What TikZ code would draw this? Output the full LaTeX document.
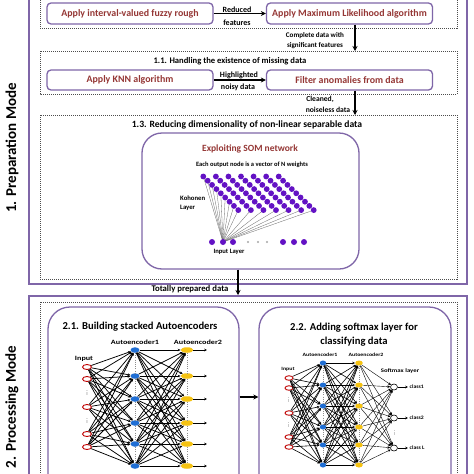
\documentclass[tikz,border=0pt]{standalone}
\usepackage{fontspec}
\setmainfont{Carlito}
\usetikzlibrary{arrows.meta,shapes.geometric}
\definecolor{pborder}{HTML}{7F66A8}
\definecolor{btext}{HTML}{953735}
\definecolor{somdot}{HTML}{6312C4}
\definecolor{aeblue}{HTML}{1F6ED4}
\definecolor{aeyel}{HTML}{F5C211}
\definecolor{inred}{HTML}{C00000}
\newcommand{\myfs}[1]{\fontsize{#1}{#1}\selectfont}
\begin{document}
\begin{tikzpicture}[x=1pt,y=-1pt,
  outerbox/.style={draw=pborder,line width=1.8pt},
  dashbox/.style={draw=black!70,line width=0.5pt,dash pattern=on 1pt off 1pt},
  stepbox/.style={draw=pborder,line width=1.3pt,rounded corners=4pt,fill=white,text=btext,font=\bfseries\myfs{9.9},minimum height=21pt,minimum width=166pt,inner sep=0pt},
  bigbox/.style={draw=pborder,line width=1.3pt,fill=white},
  flowarrow/.style={-{Stealth[length=5pt,width=5pt]},line width=1.4pt},
  lbl/.style={font=\bfseries\myfs{8},inner sep=0pt},
  ttl/.style={font=\bfseries\myfs{8.6},inner sep=0pt},
  somdotst/.style={circle,fill=somdot,inner sep=0pt,minimum size=5.8pt},
  graydot/.style={circle,fill=black!35,inner sep=0pt,minimum size=2.4pt},
  somline/.style={draw=black!60,line width=0.3pt},
  inode/.style={ellipse,draw=inred,line width=0.9pt,fill=white,inner sep=0pt,minimum width=#1,minimum height=5pt},
  bnode/.style={ellipse,fill=aeblue,inner sep=0pt,minimum width=#1,minimum height=5.5pt},
  ynode/.style={ellipse,fill=aeyel,inner sep=0pt,minimum width=#1,minimum height=5.5pt},
  smnode/.style={ellipse,draw=black,line width=0.6pt,fill=white,inner sep=0pt,minimum width=7pt,minimum height=6pt},
  edge/.style={line width=0.75pt,-{Stealth[length=2.8pt,width=2.6pt]}},
  vdots/.style={draw=black!45,line width=0.8pt,dash pattern=on 1pt off 1.2pt},
  nnl/.style={font=\bfseries\myfs{#1},inner sep=0pt}
]
\useasboundingbox (0,0) rectangle (474,474);
\fill[white] (0,0) rectangle (474,474);
\clip (0,0) rectangle (474,474);

% ---------- Section 1 ----------
\draw[outerbox] (29,-20) rectangle (467,284);
\node[rotate=90,font=\bfseries\myfs{15}] (prep) at (12,148) {1. Preparation Mode};

% top dashed box
\draw[dashbox] (40,-10) rectangle (457,28);
\node[stepbox] (fuzzy) at (130,13.5) {Apply interval-valued fuzzy rough};
\node[stepbox] (mle) at (349.5,13.5) {Apply Maximum Likelihood algorithm};
\draw[flowarrow] (fuzzy.east) -- (mle.west);
\node[lbl] (redl) at (237,9.5) {Reduced};
\node[lbl] (feal) at (237,23) {features};

\coordinate (c1) at (355,51);
\draw[flowarrow] (mle.south -| c1) -- (c1);
\node[lbl,font=\bfseries\myfs{7.1},align=center] (compl) at (315,40.5) {Complete data with\\[2.5pt]significant features};

% 1.1 dashed box
\draw[dashbox] (40,51) rectangle (457,94);
\node[ttl] (t11) at (230,61) {1.1. Handling the existence of missing data};
\node[stepbox,minimum height=20pt] (knn) at (130,80) {Apply KNN algorithm};
\node[stepbox,minimum height=20pt] (filt) at (349.5,80) {Filter anomalies from data};
\draw[flowarrow] (knn.east) -- (filt.west);
\node[lbl] (hil) at (239,75) {Highlighted};
\node[lbl] (nsl) at (238,87.5) {noisy data};

\coordinate (c2) at (355,115);
\draw[flowarrow] (filt.south -| c2) -- (c2);
\node[lbl,font=\bfseries\myfs{7.6}] (cln) at (320,99) {Cleaned,};
\node[lbl,font=\bfseries\myfs{7.6}] (nsl2) at (328,109.5) {noiseless data};

% 1.3 dashed box
\draw[dashbox] (40,115) rectangle (457,279);
\node[ttl,font=\bfseries\myfs{9.6}] (t13) at (247,125) {1.3. Reducing dimensionality of non-linear separable data};
\node[bigbox,rounded corners=20pt,minimum width=217pt,minimum height=136pt,inner sep=0pt] (som) at (250.5,201) {};
\node[font=\bfseries\myfs{9.5},text=btext,inner sep=0pt] (somt) at (250,149) {Exploiting SOM network};
\node[nnl=6.5] (somsub) at (252,164.5) {Each output node is a vector of N weights};

% SOM grid coordinates
\foreach \c in {0,...,6}
  \foreach \r in {0,...,8}
    \coordinate (s\c-\r) at ({203.3+12.57*\c+4.375*\r},{176.5+4.2*\r});
% input layer
\foreach \x [count=\i] in {212,223,233,283,294,304}
  \coordinate (ip\i) at (\x,242);
\foreach \r in {0,...,8} \draw[somline] (ip2) -- (s0-\r);
\foreach \c in {1,...,6} \draw[somline] (ip2) -- (s\c-8);
\foreach \c in {0,...,6}
  \foreach \r in {0,...,8}
    \node[somdotst] (sd\c-\r) at (s\c-\r) {};
\foreach \i in {1,...,6}
  \node[somdotst,minimum size=6pt] (in\i) at (ip\i) {};
\foreach \x [count=\i] in {248,258,267}
  \node[graydot] (gd\i) at (\x,242) {};
\node[nnl=6.7,align=left,anchor=west] (koh) at (180,203.5) {Kohonen\\[2.5pt]Layer};
\node[nnl=6.6] (inl) at (229,252) {Input Layer};

\coordinate (c3) at (238,295);
\draw[flowarrow] (som.south -| c3) -- (c3);
\node[lbl,font=\bfseries\myfs{8.7}] (tot) at (190,289) {Totally prepared data};

% ---------- Section 2 ----------
\draw[outerbox] (29,296) rectangle (467,520);
\node[rotate=90,font=\bfseries\myfs{15}] (proc) at (12,407) {2. Processing Mode};
\draw[dashbox] (40,302) rectangle (457,520);
\node[bigbox,rounded corners=22pt,minimum width=191pt,minimum height=210pt,inner sep=0pt] (ae1box) at (143.5,412) {};
\node[bigbox,rounded corners=22pt,minimum width=192pt,minimum height=210pt,inner sep=0pt] (ae2box) at (355,412) {};
\coordinate (m2) at (0,397);
\draw[flowarrow] (ae1box.east |- m2) -- (ae2box.west |- m2);
\node[ttl,font=\bfseries\myfs{10.6}] (t21) at (140,327) {2.1. Building stacked Autoencoders};
\node[ttl,font=\bfseries\myfs{10.6},align=center] (t22) at (354,334.5) {2.2. Adding softmax layer for\\[4pt]classifying data};

% network 1
\node[nnl=6.5,xscale=1.25] (in1l) at (84,359) {Input};
\node[nnl=6.5,xscale=1.25] (a1l) at (135,342) {Autoencoder1};
\node[nnl=6.5,xscale=1.25] (a2l) at (198,342) {Autoencoder2};
\foreach \y [count=\i] in {367,379,407,434,447}
  \node[inode=9pt] (ia\i) at (87,\y) {};
\foreach \y [count=\i] in {350,376,399,423,444,466}{
  \node[bnode=9pt] (ba\i) at (135,\y) {};
  \node[ynode=12.5pt] (ya\i) at (187,\y) {};
  \coordinate (oa\i) at (207,\y);
}
\node[font=\myfs{5},inner sep=0pt,rotate=90] (d1) at (87,393) {....};
\node[font=\myfs{5},inner sep=0pt,rotate=90] (d2) at (87,421) {....};
\foreach \i/\j in {1/2,2/3,3/4,4/5,5/6}{
  \draw[vdots] (ba\i.south) -- (ba\j.north);
  \draw[vdots] (ya\i.south) -- (ya\j.north);
}
\foreach \i in {1,...,5} \foreach \j in {1,...,6} \draw[edge] (ia\i) -- (ba\j);
\foreach \i in {1,...,6} \foreach \j in {1,...,6} \draw[edge] (ba\i) -- (ya\j);
\foreach \i in {1,...,6} \draw[edge,line width=0.6pt] (ya\i) -- (oa\i);

% network 2
\node[nnl=4.9,xscale=1.2] (in2l) at (288,369) {Input};
\node[nnl=4.9,xscale=1.2] (b1l) at (320,355) {Autoencoder1};
\node[nnl=4.9,xscale=1.2] (b2l) at (366,355) {Autoencoder2};
\node[nnl=5.4,xscale=1.25] (sml) at (400,371) {Softmax layer};
\foreach \y [count=\i] in {378,388,413,437,447}
  \node[inode=8pt,minimum height=4.5pt] (ib\i) at (289,\y) {};
\foreach \y [count=\i] in {363,385,406,427,445,465}{
  \node[bnode=6.5pt,minimum height=5pt] (bb\i) at (323,\y) {};
  \node[ynode=7.5pt,minimum height=5pt] (yb\i) at (359,\y) {};
}
\node[font=\myfs{4.5},inner sep=0pt,rotate=90] (d3) at (289,400) {....};
\node[font=\myfs{4.5},inner sep=0pt,rotate=90] (d4) at (289,425) {....};
\foreach \i/\j in {1/2,2/3,3/4,4/5,5/6}{
  \draw[vdots] (bb\i.south) -- (bb\j.north);
  \draw[vdots] (yb\i.south) -- (yb\j.north);
}
\foreach \y/\t [count=\i] in {387/class1,418/class2,448/class L}{
  \node[smnode] (sm\i) at (394,\y) {};
  \coordinate (ob\i) at (408,\y);
  \node[nnl=5.2,xscale=1.1,anchor=west] (cl\i) at (409.5,\y) {\t};
}
\node[font=\myfs{4.5},inner sep=0pt,rotate=90] (d5) at (395,433) {....};
\foreach \i in {1,...,5} \foreach \j in {1,...,6} \draw[edge,line width=0.6pt] (ib\i) -- (bb\j);
\foreach \i in {1,...,6} \foreach \j in {1,...,6} \draw[edge,line width=0.6pt] (bb\i) -- (yb\j);
\foreach \i in {1,...,6} \foreach \j in {1,...,3} \draw[edge,line width=0.4pt] (yb\i) -- (sm\j);
\foreach \i in {1,...,3} \draw[edge,line width=0.5pt] (sm\i) -- (ob\i);
\end{tikzpicture}
\end{document}
